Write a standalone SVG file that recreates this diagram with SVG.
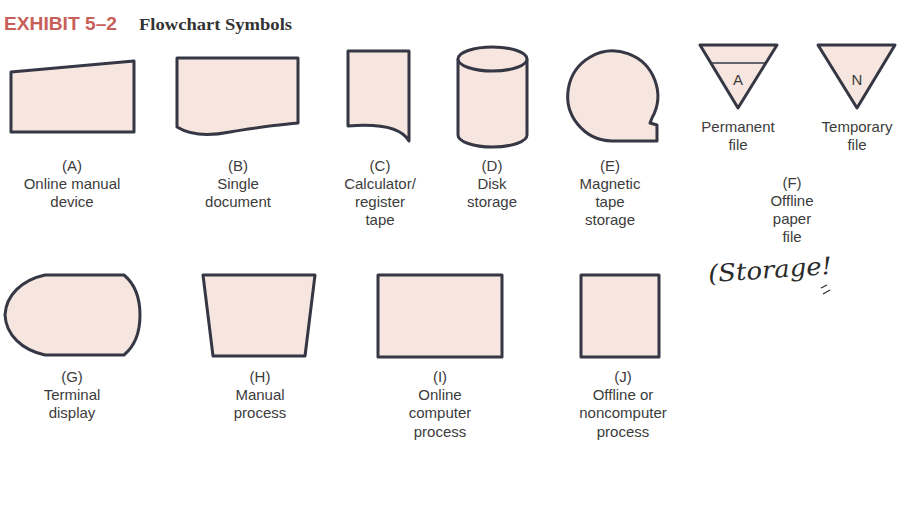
<svg xmlns="http://www.w3.org/2000/svg" width="914" height="508" viewBox="0 0 914 508">
<style>
.s{fill:#f6e6df;stroke:#353744;stroke-width:3;stroke-linejoin:round}
.l{font-family:"Liberation Sans",Arial,sans-serif;font-size:15px;fill:#3c3c3c;text-anchor:middle}
.t{font-family:"Liberation Sans",Arial,sans-serif;font-size:15px;fill:#3c3c3c;text-anchor:middle}
</style>
<rect width="914" height="508" fill="#ffffff"/>
<g id="title">
<text x="4" y="30" font-family="Liberation Sans,Arial,sans-serif" font-size="19" font-weight="bold" fill="#c8605a" textLength="113" lengthAdjust="spacingAndGlyphs">EXHIBIT 5–2</text>
<text x="139" y="30" font-family="Liberation Serif,Times New Roman,serif" font-size="17" font-weight="bold" fill="#333333" textLength="153" lengthAdjust="spacingAndGlyphs">Flowchart Symbols</text>
</g>
<g id="A">
<path class="s" d="M11,72 L134,61 L134,132 L11,132 Z"/>
<text class="l" x="72" y="171">(A)</text>
<text class="l" x="72" y="189">Online manual</text>
<text class="l" x="72" y="207">device</text>
</g>
<g id="B">
<path class="s" d="M177,58 L298,58 L298,123 C270,126 250,128 230,132 C210,136 190,135 177,127 Z"/>
<text class="l" x="238" y="171">(B)</text>
<text class="l" x="238" y="189">Single</text>
<text class="l" x="238" y="207">document</text>
</g>
<g id="C">
<path class="s" d="M348,51 L409,51 L409,141 Q398,122 348,126 Z"/>
<text class="l" x="380" y="171">(C)</text>
<text class="l" x="380" y="189">Calculator/</text>
<text class="l" x="380" y="207">register</text>
<text class="l" x="380" y="225">tape</text>
</g>
<g id="D">
<path class="s" d="M458,59 L458,135 A34.5,12 0 0 0 527,135 L527,59"/>
<ellipse class="s" cx="492.5" cy="59" rx="34.5" ry="12"/>
<text class="l" x="492" y="171">(D)</text>
<text class="l" x="492" y="189">Disk</text>
<text class="l" x="492" y="207">storage</text>
</g>
<g id="E">
<path class="s" d="M612,141 A45,45 0 1 1 652,118 L650,123 L657,125 L657,141 Z"/>
<text class="l" x="610" y="171">(E)</text>
<text class="l" x="610" y="189">Magnetic</text>
<text class="l" x="610" y="207">tape</text>
<text class="l" x="610" y="225">storage</text>
</g>
<g id="F">
<path class="s" d="M700,45 L777,45 L738,108 Z"/>
<line x1="711" y1="63" x2="766" y2="63" stroke="#353744" stroke-width="1.5"/>
<text class="t" x="738" y="85" font-size="14">A</text>
<path class="s" d="M818,45 L895,45 L857,108 Z"/>
<text class="t" x="857" y="85" font-size="14">N</text>
<text class="l" x="738" y="132">Permanent</text>
<text class="l" x="738" y="150">file</text>
<text class="l" x="857" y="132">Temporary</text>
<text class="l" x="857" y="150">file</text>
<text class="l" x="792" y="188">(F)</text>
<text class="l" x="792" y="206">Offline</text>
<text class="l" x="792" y="224">paper</text>
<text class="l" x="792" y="242">file</text>
<text x="708" y="278" font-family="DejaVu Serif,serif" font-style="italic" font-size="24" fill="#2a2a2a" transform="rotate(-4 770 270)" textLength="124" lengthAdjust="spacingAndGlyphs">(Storage!</text>
<path d="M821,288 l6,-3 M823,294 l7,-4" stroke="#2a2a2a" stroke-width="1.2" fill="none"/>
</g>
<g id="G">
<path class="s" d="M45,275 L124,275 C136,285 140,300 140,315 C140,332 136,345 124,355 L45,355 C22,350 6,335 5,315 C6,295 22,280 45,275 Z"/>
<text class="l" x="72" y="382">(G)</text>
<text class="l" x="72" y="400">Terminal</text>
<text class="l" x="72" y="418">display</text>
</g>
<g id="H">
<path class="s" d="M203,275 L315,275 L305,356 L213,356 Z"/>
<text class="l" x="260" y="382">(H)</text>
<text class="l" x="260" y="400">Manual</text>
<text class="l" x="260" y="418">process</text>
</g>
<g id="I">
<rect class="s" x="378" y="275" width="124" height="82"/>
<text class="l" x="440" y="382">(I)</text>
<text class="l" x="440" y="400">Online</text>
<text class="l" x="440" y="418">computer</text>
<text class="l" x="440" y="437">process</text>
</g>
<g id="J">
<rect class="s" x="581" y="275" width="78" height="82"/>
<text class="l" x="623" y="382">(J)</text>
<text class="l" x="623" y="400">Offline or</text>
<text class="l" x="623" y="418">noncomputer</text>
<text class="l" x="623" y="437">process</text>
</g>
<g id="connectors"></g>
</svg>
